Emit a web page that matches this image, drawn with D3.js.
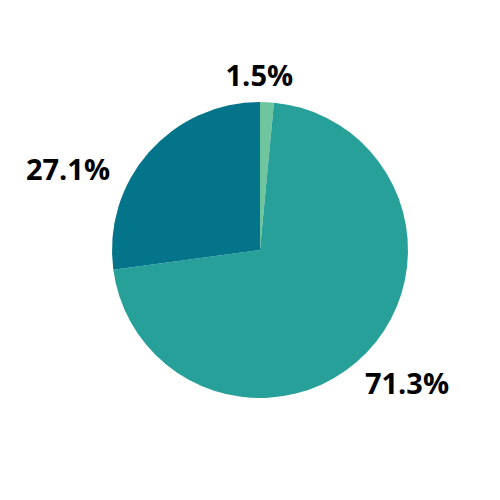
<!DOCTYPE html>
<html>
<head>
<meta charset="utf-8">
<script src="https://cdn.jsdelivr.net/npm/d3@7"></script>
<style>
  body { margin: 0; background: #fff; }
  text { font-family: "Open Sans", sans-serif; font-weight: 700; }
</style>
</head>
<body>
<div id="chart"></div>
<script>
// slice data, clockwise from 12 o'clock
const categories = ["A", "B", "C"];
const values = [1.5, 71.3, 27.1];
const labels = ["1.5%", "71.3%", "27.1%"];
const colors = ["#6fc69e", "#27a09a", "#037489"];

const width = 500;
const height = 500;
const cx = 260, cy = 250;
const radius = 148;

// label distance from centre and small nudges so labels sit like the original
const labelRadius = [176, 190, 190];
const labelNudge = [[-9, 0], [10, 1], [-49, 44]];

const svg = d3.select("#chart").append("svg")
    .attr("width", width)
    .attr("height", height);

const g = svg.append("g")
    .attr("transform", "translate(" + cx + "," + cy + ")");

const pie = d3.pie()
    .sort(null)
    .value(d => d.value);

const data = categories.map((c, i) => ({ cat: c, value: values[i], label: labels[i] }));
const arcs = pie(data);

const arc = d3.arc()
    .innerRadius(0)
    .outerRadius(radius);

g.selectAll("path")
  .data(arcs)
  .join("path")
    .attr("d", arc)
    .attr("fill", (d, i) => colors[i]);

// labels
g.selectAll("text")
  .data(arcs)
  .join("text")
    .attr("x", (d, i) => {
      const a = (d.startAngle + d.endAngle) / 2;
      return Math.sin(a) * labelRadius[i] + labelNudge[i][0];
    })
    .attr("y", (d, i) => {
      const a = (d.startAngle + d.endAngle) / 2;
      return -Math.cos(a) * labelRadius[i] + labelNudge[i][1];
    })
    .attr("text-anchor", "middle")
    .attr("dominant-baseline", "central")
    .attr("font-size", 29)
    .attr("fill", "#000")
    .text(d => d.data.label);
</script>
</body>
</html>
